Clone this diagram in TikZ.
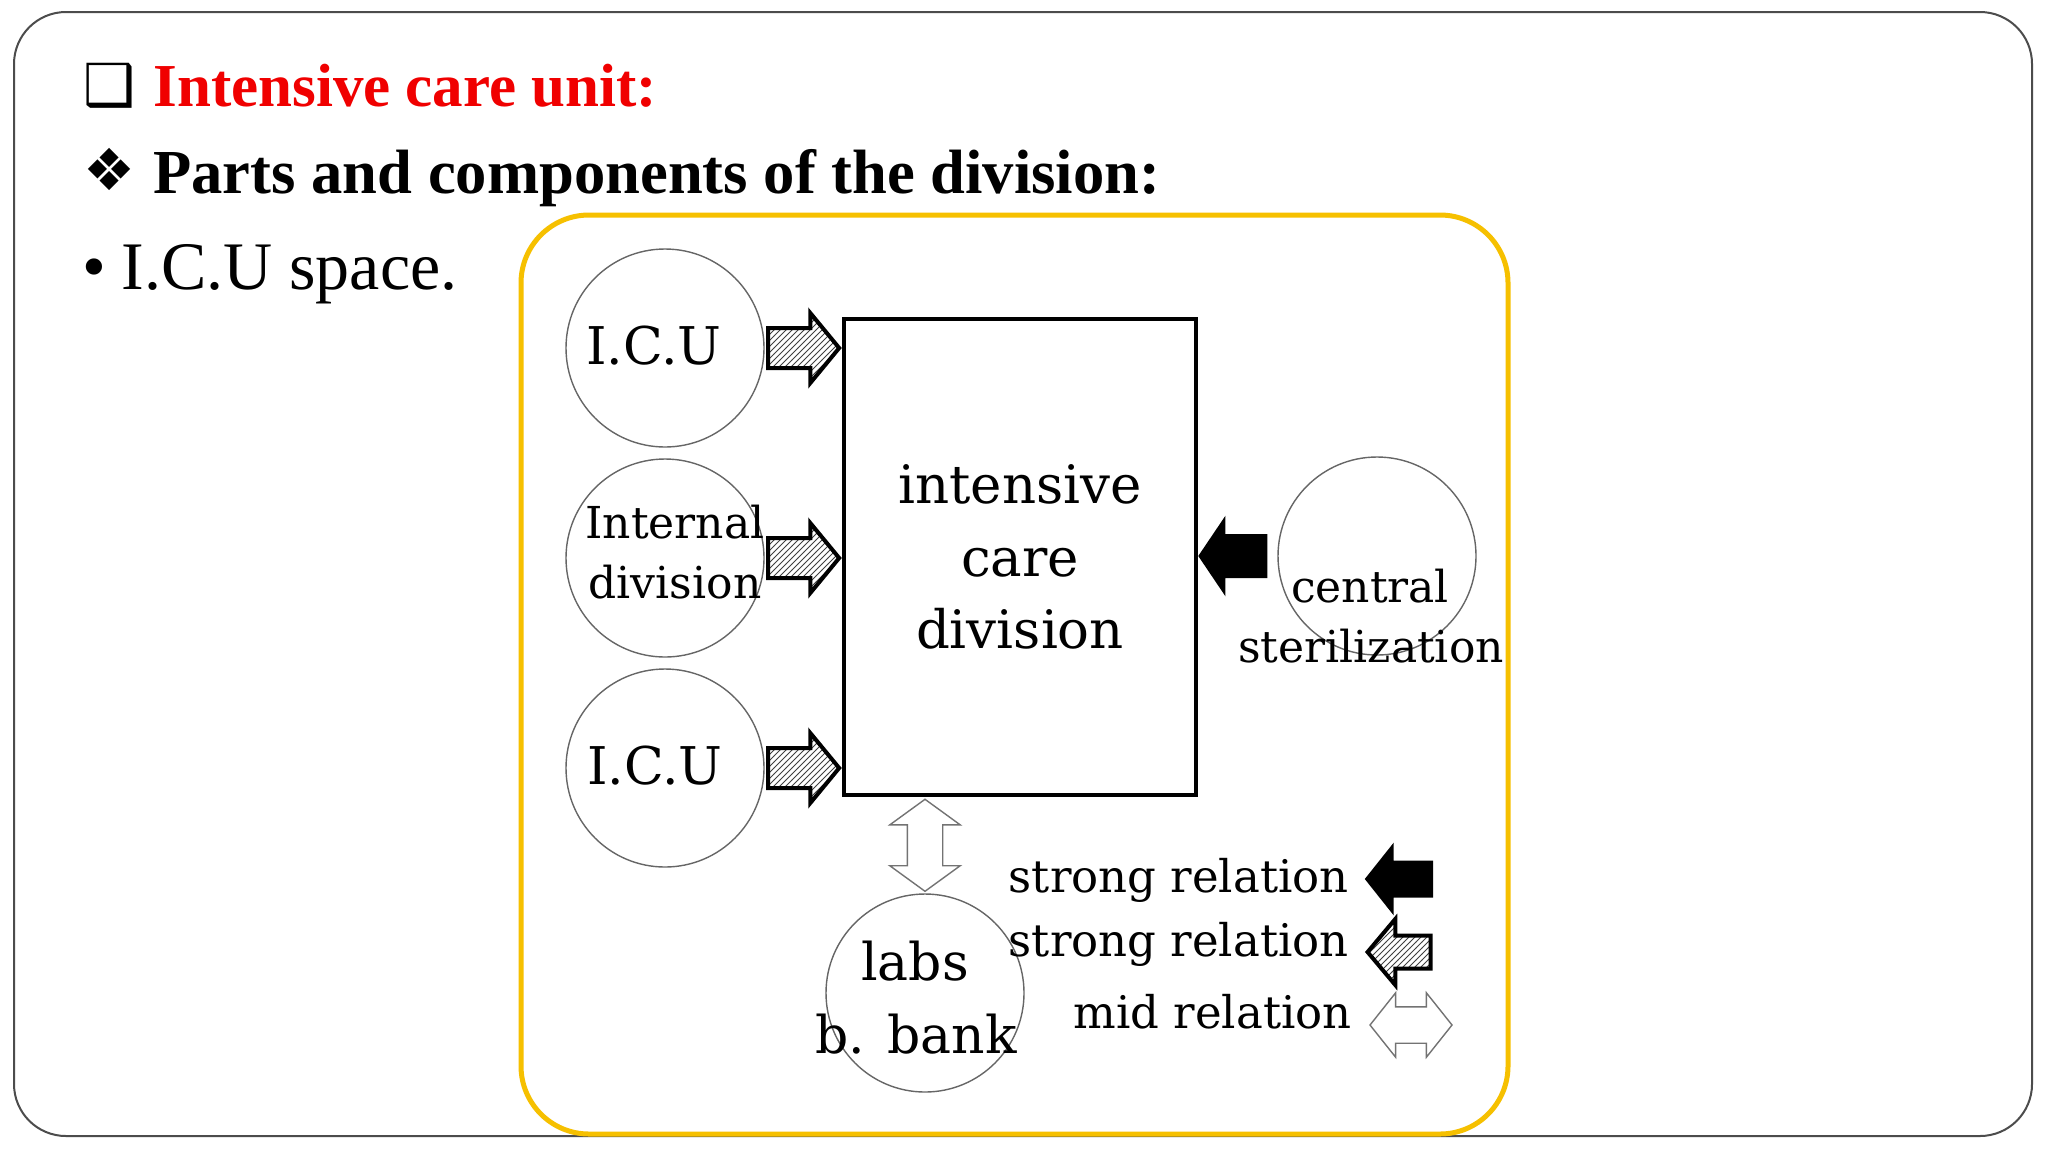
\documentclass[tikz,border=0pt]{standalone}
\usepackage{fontspec}
\setmainfont{Liberation Serif}
\newfontfamily\diagfont{DejaVu Serif}
\newfontfamily\dingfont{DejaVu Sans}
\usetikzlibrary{shapes.arrows,patterns,calc}
\definecolor{frameyellow}{RGB}{246,192,0}
\definecolor{titlered}{RGB}{240,0,0}
\begin{document}
\begin{tikzpicture}[x=0.5pt,y=-0.5pt,
  bubble/.style={circle, draw=black!60, line width=0.7pt, minimum size=99pt, inner sep=0pt},
  bigtext/.style={anchor=base, inner sep=0pt, font={\diagfont\fontsize{26pt}{30pt}\selectfont}},
  smalltext/.style={anchor=base, inner sep=0pt, font={\diagfont\fontsize{22pt}{26pt}\selectfont}},
  legtext/.style={anchor=base east, inner sep=0pt, font={\diagfont\fontsize{22.5pt}{26pt}\selectfont}},
  hatcharrow/.style={single arrow, draw=black, line width=2pt, pattern=north east lines, pattern color=black!75,
     minimum height=35.5pt, minimum width=33pt, inner sep=9pt, single arrow head extend=7.5pt, single arrow tip angle=101},
  solidarrow/.style={single arrow, draw=black, fill=black, line width=1pt,
     minimum height=33.5pt, minimum width=36pt, inner sep=10pt, single arrow head extend=8pt, single arrow tip angle=112},
  hollowarrow/.style={double arrow, draw=black!55, fill=white, line width=0.7pt},
]
\useasboundingbox (0,0) rectangle (2048,1152);
\fill[white] (0,0) rectangle (2048,1152);
\draw[black!70, line width=1pt, rounded corners=26pt] (14,12) rectangle (2032,1136);

% header
\node[anchor=base west, inner sep=0pt, font={\dingfont\fontsize{29pt}{29pt}\selectfont}] (sq) at (83,105) {❑};
\node[anchor=base west, inner sep=0pt, text=titlered, font={\bfseries\fontsize{30.5pt}{36pt}\selectfont}] (title) at (153,106) {Intensive care unit:};
\node[anchor=base west, inner sep=0pt, font={\dingfont\fontsize{29pt}{29pt}\selectfont}] (dia) at (83,190) {❖};
\node[anchor=base west, inner sep=0pt, font={\bfseries\fontsize{31.3pt}{36pt}\selectfont}] (sub) at (153,193) {Parts and components of the division:};
\node[anchor=base west, inner sep=0pt, font={\fontsize{34pt}{40pt}\selectfont}] (bul) at (82,289) {•};
\node[anchor=base west, inner sep=0pt, font={\fontsize{34pt}{40pt}\selectfont}] (space) at (121,289) {I.C.U space.};

% yellow panel
\draw[frameyellow, line width=2.5pt, rounded corners=34pt] (521,215) rectangle (1508,1134);

% central box
\node[draw, line width=2.25pt, minimum width=176pt, minimum height=238pt, inner sep=0pt, align=center,
  font={\diagfont\fontsize{26.5pt}{36.25pt}\selectfont}] (box) at (1020,557) {intensive\\care\\division};

% circles
\node[bubble] (c1) at (665,348) {};
\node[bubble] (c2) at (665,558) {};
\node[bubble] (c3) at (665,768) {};
\node[bubble] (cs) at (1377,556) {};
\node[bubble] (lab) at (925,993) {};

% circle texts
\node[bigtext] (t1) at (654,364) {I.C.U};
\node[smalltext] (t2a) at (675,538) {Internal};
\node[smalltext] (t2b) at (675,598) {division};
\node[bigtext] (t3) at (655,784) {I.C.U};
\node[smalltext] (tsa) at (1370,602) {central};
\node[smalltext] (tsb) at (1371,662) {sterilization};
\node[bigtext] (tla) at (915,980) {labs};
\node[bigtext] (tlb) at (916,1053) {b. bank};

% connectors
\node[hatcharrow, anchor=tip] (a1) at (box.west |- c1.center) {};
\node[hatcharrow, anchor=tip] (a2) at (box.west |- c2.center) {};
\node[hatcharrow, anchor=tip] (a3) at (box.west |- c3.center) {};
\node[solidarrow, anchor=tip, shape border rotate=180] (a4) at (box.east |- cs.center) {};
\node[hollowarrow, shape border rotate=90, minimum height=46pt, minimum width=34.5pt, inner sep=8.5pt,
  double arrow head extend=8.75pt, double arrow tip angle=108] (a5) at ($(lab.north |- box.south)!0.5!(lab.north)$) {};

% legend
\node[legtext] (l1) at (1349,892) {strong relation};
\node[legtext] (l2) at (1349,956) {strong relation};
\node[legtext] (l3) at (1352,1028) {mid relation};
\node[solidarrow, shape border rotate=180, minimum height=33pt, minimum width=32.5pt, inner sep=8.25pt,
  single arrow head extend=8pt, single arrow tip angle=103] (k1) at (1406,879) {};
\node[hatcharrow, shape border rotate=180, minimum height=31.5pt, minimum width=31pt, inner sep=7.25pt,
  single arrow head extend=8.25pt, single arrow tip angle=100] (k2) at (1406,952) {};
\node[hollowarrow, minimum height=41pt, minimum width=31.5pt, inner sep=8.75pt,
  double arrow head extend=7pt, double arrow tip angle=103] (k3) at (1411,1025) {};
\end{tikzpicture}
\end{document}
